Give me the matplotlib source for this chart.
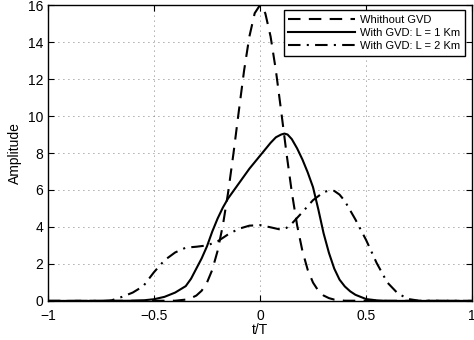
import numpy as np
import matplotlib
matplotlib.use("Agg")
import matplotlib.pyplot as plt

plt.rcParams["font.family"] = ["Liberation Sans", "DejaVu Sans"]

# without GVD (dashed)
t_nogvd = [-1.0, -0.4, -0.35, -0.325, -0.3, -0.275, -0.25, -0.225, -0.2, -0.175, -0.15,
           -0.125, -0.1, -0.075, -0.05, -0.025, 0.0, 0.025, 0.05, 0.075, 0.1, 0.125,
           0.15, 0.175, 0.2, 0.225, 0.25, 0.275, 0.3, 0.325, 0.35, 0.4, 1.0]
a_nogvd = [0.0, 0.01, 0.07, 0.15, 0.29, 0.55, 0.99, 1.68, 2.70, 4.09, 5.88,
           7.98, 10.25, 12.46, 14.3, 15.56, 16.0, 15.56, 14.3, 12.46, 10.25, 7.98,
           5.88, 4.09, 2.70, 1.68, 0.99, 0.55, 0.29, 0.15, 0.07, 0.01, 0.0]

# with GVD, L = 1 Km (solid)
t_l1 = [-1.0, -0.7, -0.6, -0.55, -0.5, -0.45, -0.4, -0.35, -0.325, -0.3, -0.275, -0.25,
        -0.225, -0.2, -0.175, -0.15, -0.125, -0.1, -0.075, -0.05, -0.025, 0.0, 0.025,
        0.05, 0.075, 0.1, 0.115, 0.13, 0.15, 0.175, 0.2, 0.225, 0.25, 0.275,
        0.3, 0.325, 0.35, 0.375, 0.4, 0.425, 0.45, 0.5, 0.55, 0.6, 1.0]
a_l1 = [0.0, 0.0, 0.01, 0.03, 0.09, 0.22, 0.45, 0.8, 1.2, 1.75, 2.3, 2.95,
        3.75, 4.45, 5.05, 5.55, 5.95, 6.35, 6.75, 7.15, 7.5, 7.85, 8.2,
        8.55, 8.85, 9.0, 9.05, 9.0, 8.75, 8.25, 7.65, 6.95, 6.15, 4.95,
        3.65, 2.6, 1.75, 1.15, 0.78, 0.52, 0.33, 0.1, 0.03, 0.0, 0.0]

# with GVD, L = 2 Km (dash-dot)
t_l2 = [-1.0, -0.75, -0.7, -0.65, -0.6, -0.55, -0.5, -0.45, -0.4, -0.35, -0.3, -0.25,
        -0.2, -0.15, -0.1, -0.05, 0.0, 0.05, 0.1, 0.125, 0.15, 0.2, 0.25, 0.3,
        0.325, 0.35, 0.375, 0.4, 0.45, 0.5, 0.55, 0.6, 0.65, 0.7, 0.75, 1.0]
a_l2 = [0.0, 0.0, 0.03, 0.22, 0.45, 0.8, 1.55, 2.2, 2.62, 2.88, 2.93, 3.0,
        3.22, 3.6, 3.9, 4.07, 4.1, 3.98, 3.85, 3.95, 4.18, 4.8, 5.45, 5.88,
        5.97, 5.95, 5.75, 5.4, 4.4, 3.3, 2.05, 1.0, 0.4, 0.1, 0.01, 0.0]

labels = ["Whithout GVD", "With GVD: L = 1 Km", "With GVD: L = 2 Km"]
xticks = [-1, -0.5, 0, 0.5, 1]
xticklabels = ["\u22121", "\u22120.5", "0", "0.5", "1"]
yticks = [0, 2, 4, 6, 8, 10, 12, 14, 16]

fig = plt.figure(figsize=(4.74, 3.4), dpi=100)
ax = fig.add_axes([0.101, 0.115, 0.895, 0.870])

ax.plot(t_nogvd, a_nogvd, color="black", lw=1.5, linestyle=(0, (6, 4)), label=labels[0])
ax.plot(t_l1, a_l1, color="black", lw=1.5, linestyle="-", label=labels[1])
ax.plot(t_l2, a_l2, color="black", lw=1.5, linestyle=(0, (6, 3, 1, 3)), label=labels[2])

ax.set_xlim(-1, 1)
ax.set_ylim(0, 16)
ax.set_xticks(xticks)
ax.set_xticklabels(xticklabels)
ax.set_yticks(yticks)
ax.tick_params(direction="in", top=True, right=True, labelsize=10, length=4, width=0.8)
ax.tick_params(axis="x", pad=6)
ax.grid(True, linestyle=(0, (1, 5)), color="#555555", lw=0.6)
for s in ax.spines.values():
    s.set_linewidth(1.0)

ax.set_xlabel("t/T", fontsize=10, labelpad=0)
ax.set_ylabel("Amplitude", fontsize=10, labelpad=4)

leg = ax.legend(loc="upper right", bbox_to_anchor=(0.983, 0.983), borderaxespad=0,
                fontsize=8, handlelength=6.0, handletextpad=0.5, fancybox=False,
                framealpha=1, edgecolor="black", labelspacing=0.3, borderpad=0.4)
leg.get_frame().set_linewidth(1.0)

fig.savefig("out.png", dpi=100)
